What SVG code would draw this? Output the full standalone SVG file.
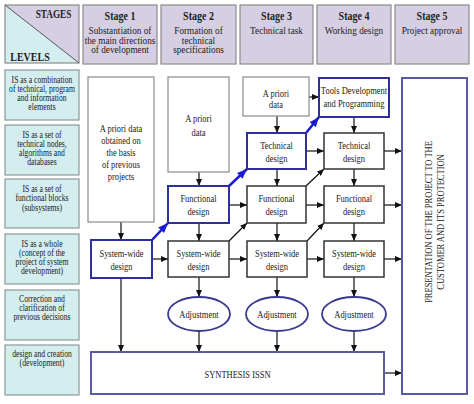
<svg xmlns="http://www.w3.org/2000/svg" width="474" height="404" viewBox="0 0 474 404">
<defs>
<marker id="ah" markerUnits="userSpaceOnUse" markerWidth="7" markerHeight="6" refX="7" refY="3" orient="auto"><path d="M0,0 L7,3 L0,6 z" fill="#111"/></marker>
<marker id="bh" markerUnits="userSpaceOnUse" markerWidth="10" markerHeight="8" refX="10" refY="4" orient="auto"><path d="M0,0 L10,4 L0,8 z" fill="#1a1ad0"/></marker>
</defs>
<style>
.t{font-family:"Liberation Serif","Times New Roman",serif;font-size:11px;fill:#222;text-anchor:middle}
.h{font-size:11px}
.b{font-weight:bold;font-size:13px}
.l{font-size:9.5px}
.p{font-size:10.5px}
.hd{fill:#d6cfe3;stroke:#8a8a8a;stroke-width:1.2}
.lv{fill:#d4eef0;stroke:#8a9a9a;stroke-width:1.2}
.ap{fill:#fff;stroke:#8a8a8a;stroke-width:1.2}
.bl{fill:#fff;stroke:#2e2e9e;stroke-width:2}
.bk{fill:#fff;stroke:#333;stroke-width:1.5}
.el{fill:#fff;stroke:#3a3a90;stroke-width:1.8}
.big{fill:#fff;stroke:#5a5aa6;stroke-width:2}
.c{stroke:#111;stroke-width:1.2;fill:none;marker-end:url(#ah)}
.cb{stroke:#1a1ad0;stroke-width:2.5;fill:none;marker-end:url(#bh)}
</style>
<rect width="474" height="404" fill="#fff"/>

<g id="corner">
<polygon points="5,5 79,5 79,63" fill="#d6cfe3"/>
<polygon points="5,5 5,63 79,63" fill="#d4eef0"/>
<rect x="5" y="5" width="74" height="58" fill="none" stroke="#8a8a8a" stroke-width="1.2"/>
<line x1="5" y1="5" x2="79" y2="63" stroke="#555" stroke-width="1"/>
<text class="t" style="font-weight:bold;font-size:12px" transform="translate(53.5 0) scale(.77 1)" x="0" y="18">STAGES</text>
<text class="t b" transform="translate(30 0) scale(.77 1)" x="0" y="61">LEVELS</text>
</g>

<g id="stage1"><rect class="hd" x="83" y="5" width="74" height="59"/>
<text class="t b" transform="translate(120 0) scale(.77 1)" x="0" y="20">Stage 1</text>
<text class="t h" transform="translate(120 0) scale(.84 1)"><tspan x="0" y="34.5">Substantiation of</tspan><tspan x="0" y="44">the main directions</tspan><tspan x="0" y="53.5">of development</tspan></text></g>
<g id="stage2"><rect class="hd" x="161" y="5" width="75" height="59"/>
<text class="t b" transform="translate(198.5 0) scale(.77 1)" x="0" y="20">Stage 2</text>
<text class="t h" transform="translate(198.5 0) scale(.84 1)"><tspan x="0" y="34.5">Formation of</tspan><tspan x="0" y="44">technical</tspan><tspan x="0" y="53.5">specifications</tspan></text></g>
<g id="stage3"><rect class="hd" x="240" y="5" width="73" height="59"/>
<text class="t b" transform="translate(276.5 0) scale(.77 1)" x="0" y="20">Stage 3</text>
<text class="t h" transform="translate(276.5 0) scale(.84 1)" x="0" y="34.5">Technical task</text></g>
<g id="stage4"><rect class="hd" x="317" y="5" width="74" height="59"/>
<text class="t b" transform="translate(354 0) scale(.77 1)" x="0" y="20">Stage 4</text>
<text class="t h" transform="translate(354 0) scale(.84 1)" x="0" y="34.5">Working design</text></g>
<g id="stage5"><rect class="hd" x="395" y="5" width="74" height="59"/>
<text class="t b" transform="translate(432 0) scale(.77 1)" x="0" y="20">Stage 5</text>
<text class="t h" transform="translate(432 0) scale(.84 1)" x="0" y="34.5">Project approval</text></g>

<g id="level1"><rect class="lv" x="5" y="70" width="74" height="50"/>
<text class="t l" transform="translate(42 0) scale(.81 1)"><tspan x="0" y="83.5">IS as a combination</tspan><tspan x="0" y="92.5">of technical, program</tspan><tspan x="0" y="101.5">and information</tspan><tspan x="0" y="110.5">elements</tspan></text></g>
<g id="level2"><rect class="lv" x="5" y="125" width="74" height="50"/>
<text class="t l" transform="translate(42 0) scale(.81 1)"><tspan x="0" y="138.5">IS as a set of</tspan><tspan x="0" y="147.5">technical nodes,</tspan><tspan x="0" y="156.5">algorithms and</tspan><tspan x="0" y="165.5">databases</tspan></text></g>
<g id="level3"><rect class="lv" x="5" y="179" width="74" height="49"/>
<text class="t l" transform="translate(42 0) scale(.81 1)"><tspan x="0" y="192.5">IS as a set of</tspan><tspan x="0" y="201.5">functional blocks</tspan><tspan x="0" y="211">(subsystems)</tspan></text></g>
<g id="level4"><rect class="lv" x="5" y="234" width="74" height="50"/>
<text class="t l" transform="translate(42 0) scale(.81 1)"><tspan x="0" y="247.5">IS as a whole</tspan><tspan x="0" y="256.5">(concept of the</tspan><tspan x="0" y="265.5">project of system</tspan><tspan x="0" y="274.5">development)</tspan></text></g>
<g id="level5"><rect class="lv" x="5" y="290" width="74" height="50"/>
<text class="t l" transform="translate(42 0) scale(.81 1)"><tspan x="0" y="302">Correction and</tspan><tspan x="0" y="311">clarification of</tspan><tspan x="0" y="320">previous decisions</tspan></text></g>
<g id="level6"><rect class="lv" x="5" y="345" width="74" height="50"/>
<text class="t l" transform="translate(42 0) scale(.81 1)"><tspan x="0" y="357.5">design and creation</tspan><tspan x="0" y="366.5">(development)</tspan></text></g>

<g id="connectors">
<line class="c" x1="121" y1="222" x2="121" y2="240"/>
<line class="c" x1="121" y1="278" x2="121" y2="352"/>
<line class="c" x1="152" y1="259" x2="168" y2="259"/>
<line class="c" x1="199" y1="172" x2="199" y2="186"/>
<line class="c" x1="199" y1="223" x2="199" y2="241"/>
<line class="c" x1="199" y1="277" x2="199" y2="297"/>
<line class="c" x1="199" y1="331" x2="199" y2="352"/>
<line class="c" x1="229" y1="205" x2="247" y2="205"/>
<line class="c" x1="229" y1="259" x2="247" y2="259"/>
<line class="c" x1="229" y1="241" x2="247" y2="223"/>
<line class="c" x1="277" y1="116" x2="277" y2="133"/>
<line class="c" x1="277" y1="169" x2="277" y2="186"/>
<line class="c" x1="277" y1="223" x2="277" y2="241"/>
<line class="c" x1="277" y1="277" x2="277" y2="297"/>
<line class="c" x1="277" y1="331" x2="277" y2="352"/>
<line class="c" x1="309" y1="97" x2="319" y2="97"/>
<line class="c" x1="306" y1="151" x2="324" y2="151"/>
<line class="c" x1="306" y1="205" x2="324" y2="205"/>
<line class="c" x1="307" y1="259" x2="324" y2="259"/>
<line class="c" x1="306" y1="186" x2="324" y2="169"/>
<line class="c" x1="307" y1="241" x2="324" y2="223"/>
<line class="c" x1="354" y1="117" x2="354" y2="133"/>
<line class="c" x1="354" y1="169" x2="354" y2="186"/>
<line class="c" x1="354" y1="223" x2="354" y2="241"/>
<line class="c" x1="354" y1="277" x2="354" y2="297"/>
<line class="c" x1="354" y1="331" x2="354" y2="352"/>
<line class="c" x1="384" y1="151" x2="402" y2="151"/>
<line class="c" x1="384" y1="205" x2="402" y2="205"/>
<line class="c" x1="384" y1="259" x2="402" y2="259"/>
<line class="c" x1="384" y1="373" x2="402" y2="373"/>
<line class="cb" x1="152" y1="240" x2="168" y2="223"/>
<line class="cb" x1="229" y1="186" x2="247" y2="169"/>
<line class="cb" x1="306" y1="133" x2="319" y2="117"/>
</g>

<g id="apriori1"><rect class="ap" x="88" y="77" width="66" height="145"/>
<text class="t p" transform="translate(121 0) scale(.8 1)"><tspan x="0" y="132">A priori data</tspan><tspan x="0" y="144">obtained on</tspan><tspan x="0" y="156">the basis</tspan><tspan x="0" y="168">of previous</tspan><tspan x="0" y="180">projects</tspan></text></g>
<g id="sw1"><rect class="bl" x="91" y="240" width="61" height="38"/>
<text class="t" transform="translate(121.5 0) scale(.77 1)"><tspan x="0" y="257">System-wide</tspan><tspan x="0" y="270">design</tspan></text></g>

<g id="apriori2"><rect class="ap" x="168" y="77" width="61" height="95"/>
<text class="t" transform="translate(198.5 0) scale(.77 1)"><tspan x="0" y="122">A priori</tspan><tspan x="0" y="136">data</tspan></text></g>
<g id="fd2"><rect class="bl" x="168" y="186" width="61" height="37"/>
<text class="t" transform="translate(198.5 0) scale(.77 1)"><tspan x="0" y="202">Functional</tspan><tspan x="0" y="215">design</tspan></text></g>
<g id="sw2"><rect class="bk" x="168" y="241" width="61" height="36"/>
<text class="t" transform="translate(198.5 0) scale(.77 1)"><tspan x="0" y="257">System-wide</tspan><tspan x="0" y="270">design</tspan></text></g>
<g id="adj2"><ellipse class="el" cx="199" cy="314" rx="31" ry="17"/>
<text class="t" transform="translate(199 0) scale(.77 1)" x="0" y="318">Adjustment</text></g>

<g id="apriori3"><rect class="ap" x="243" y="77" width="66" height="39"/>
<text class="t p" transform="translate(276 0) scale(.8 1)"><tspan x="0" y="97">A priori</tspan><tspan x="0" y="108.5">data</tspan></text></g>
<g id="td3"><rect class="bl" x="247" y="133" width="59" height="36"/>
<text class="t" transform="translate(276.5 0) scale(.77 1)"><tspan x="0" y="149">Technical</tspan><tspan x="0" y="162">design</tspan></text></g>
<g id="fd3"><rect class="bk" x="247" y="186" width="59" height="37"/>
<text class="t" transform="translate(276.5 0) scale(.77 1)"><tspan x="0" y="202">Functional</tspan><tspan x="0" y="215">design</tspan></text></g>
<g id="sw3"><rect class="bk" x="247" y="241" width="60" height="36"/>
<text class="t" transform="translate(277 0) scale(.77 1)"><tspan x="0" y="257">System-wide</tspan><tspan x="0" y="270">design</tspan></text></g>
<g id="adj3"><ellipse class="el" cx="277" cy="314" rx="31" ry="17"/>
<text class="t" transform="translate(277 0) scale(.77 1)" x="0" y="318">Adjustment</text></g>

<g id="tools"><rect class="bl" x="319" y="78" width="70" height="39"/>
<text class="t" transform="translate(354 0) scale(.77 1)"><tspan x="0" y="94">Tools Development</tspan><tspan x="0" y="107">and Programming</tspan></text></g>
<g id="td4"><rect class="bk" x="324" y="133" width="60" height="36"/>
<text class="t" transform="translate(354 0) scale(.77 1)"><tspan x="0" y="149">Technical</tspan><tspan x="0" y="162">design</tspan></text></g>
<g id="fd4"><rect class="bk" x="324" y="186" width="60" height="37"/>
<text class="t" transform="translate(354 0) scale(.77 1)"><tspan x="0" y="202">Functional</tspan><tspan x="0" y="215">design</tspan></text></g>
<g id="sw4"><rect class="bk" x="324" y="241" width="60" height="36"/>
<text class="t" transform="translate(354 0) scale(.77 1)"><tspan x="0" y="257">System-wide</tspan><tspan x="0" y="270">design</tspan></text></g>
<g id="adj4"><ellipse class="el" cx="354" cy="314" rx="32" ry="17"/>
<text class="t" transform="translate(354 0) scale(.77 1)" x="0" y="318">Adjustment</text></g>

<g id="synthesis"><rect class="big" x="91" y="352" width="293" height="42"/>
<text class="t" transform="translate(237.5 0) scale(.77 1)" x="0" y="378">SYNTHESIS ISSN</text></g>

<g id="presentation"><rect class="big" x="402" y="78" width="65" height="316"/>
<text class="t" transform="translate(432 222) rotate(-90) scale(.77 1)"><tspan x="0" y="0">PRESENTATION OF THE PROJECT TO THE</tspan><tspan x="0" y="12.5">CUSTOMER AND ITS PROTECTION</tspan></text></g>
</svg>
